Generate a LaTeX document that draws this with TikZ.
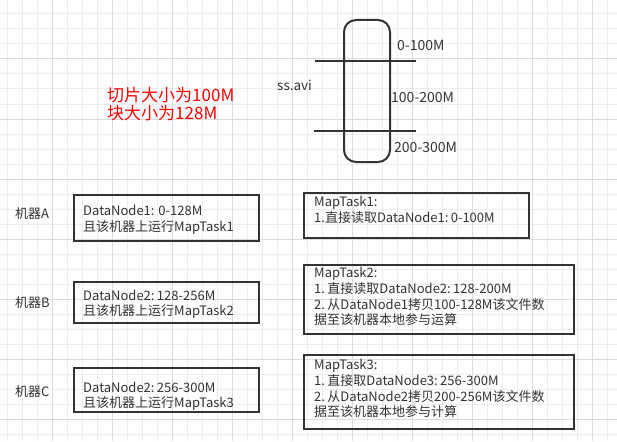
\documentclass[tikz,border=0pt]{standalone}
\usepackage{fontspec}
\setmainfont[WordSpace=0.5]{Noto Sans CJK SC}
\usepackage{xcolor}
\usetikzlibrary{positioning}

\definecolor{inkgray}{HTML}{333333}
\definecolor{gridminor}{HTML}{EDEDED}
\definecolor{gridmajor}{HTML}{DCDCDC}
\definecolor{notered}{HTML}{FF0000}

\tikzset{
    box/.style={draw=inkgray,line width=2pt,anchor=north west,inner sep=0pt},
    boxtext/.style={anchor=north west,align=left,inner sep=0pt,text=inkgray,
                font=\fontsize{13}{15.8}\selectfont},
    tag/.style={text=inkgray,inner sep=0pt,font=\fontsize{13}{16}\selectfont},
}

\begin{document}
\begin{tikzpicture}[x=1pt,y=-1pt]
        \useasboundingbox[fill=white] (0,0) rectangle (617,441);

        % background grid
        \foreach \x in {7,22,...,617} \draw[gridminor,line width=1pt] (\x,0) -- (\x,441);
        \foreach \y in {14,29,...,441} \draw[gridminor,line width=1pt] (0,\y) -- (617,\y);
        \foreach \x in {52,112,...,617} \draw[gridmajor,line width=1pt] (\x,0) -- (\x,441);
        \foreach \y in {59,119,...,441} \draw[gridmajor,line width=1pt] (0,\y) -- (617,\y);

        % the file
        \node[box,rounded corners=12pt,minimum width=46pt,minimum height=142pt] (file) at (343,19) {};

        \coordinate (A) at (315,61);
        \coordinate (B) at (416,61);
        \coordinate (C) at (314,131);
        \coordinate (D) at (416,131);

        \draw[inkgray,line width=2pt] (A) -- (B);
        \draw[inkgray,line width=2pt] (C) -- (D);

        \node[tag,anchor=west,font=\fontsize{14}{16}\selectfont] (part1) at (397,45)  {0-100M};
        \node[tag,anchor=west,font=\fontsize{14}{16}\selectfont] (part2) at (391,97)  {100-200M};
        \node[tag,anchor=west,font=\fontsize{14}{16}\selectfont] (part3) at (394,147) {200-300M};
        \node[tag,anchor=west,font=\fontsize{13.5}{16}\selectfont] (name)  at (277,85)  {ss.avi};

        \node[anchor=west,align=left,inner sep=0pt,text=notered,
              font=\fontsize{17}{18}\selectfont] (sizes) at (107,104)
              {切片大小为100M\\块大小为128M};

        % machines
        \node[tag,anchor=west] (mA) at (15,214) {机器A};
        \node[tag,anchor=west] (mB) at (15,303) {机器B};
        \node[tag,anchor=west] (mC) at (15,392) {机器C};

        \node[box,minimum width=185pt,minimum height=46pt] (dn1) at (73,194) {};
        \node[box,minimum width=185pt,minimum height=41pt] (dn2) at (73,281) {};
        \node[box,minimum width=185pt,minimum height=44pt] (dn3) at (73,367) {};

        \node[boxtext] at ([shift={(10pt,-11pt)}]dn1.north west)
              {DataNode1: \ 0-128M\\且该机器上运行MapTask1};
        \node[boxtext] at ([shift={(10pt,-8.5pt)}]dn2.north west)
              {DataNode2: 128-256M\\且该机器上运行MapTask2};
        \node[boxtext] at ([shift={(10pt,-14.5pt)}]dn3.north west)
              {DataNode2: 256-300M\\且该机器上运行MapTask3};

        % map tasks
        \node[box,minimum width=225pt,minimum height=45pt] (mt1) at (303,192) {};
        \node[box,minimum width=270pt,minimum height=69pt] (mt2) at (303,264) {};
        \node[box,minimum width=270pt,minimum height=74pt] (mt3) at (303,354) {};

        \node[boxtext] at ([shift={(11pt,-4pt)}]mt1.north west)
              {MapTask1:\\1.直接读取DataNode1: 0-100M};
        \node[boxtext] at ([shift={(11pt,-3pt)}]mt2.north west)
              {MapTask2:\\1. 直接读取DataNode2: 128-200M\\2. 从DataNode1拷贝100-128M该文件数\\据至该机器本地参与运算};
        \node[boxtext] at ([shift={(11pt,-5pt)}]mt3.north west)
              {MapTask3:\\1. 直接取DataNode3: 256-300M\\2. 从DataNode2拷贝200-256M该文件数\\据至该机器本地参与计算};
    \end{tikzpicture}
\end{document}
